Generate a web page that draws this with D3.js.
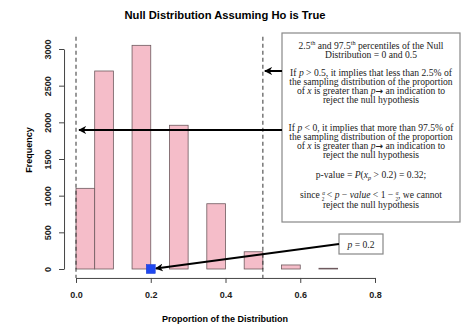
<!DOCTYPE html>
<html><head><meta charset="utf-8">
<script src="https://cdn.jsdelivr.net/npm/d3@7"></script>
<style>body{margin:0;background:#fff}svg{display:block}</style>
</head><body>
<svg id="c" width="474" height="326"></svg>
<script>
// ---- data ----
const binStarts = [0,0.05,0.1,0.15,0.2,0.25,0.3,0.35,0.4,0.45,0.5,0.55,0.6,0.65,0.7,0.75];
const binWidth = 0.05;
const counts = [1100,2700,0,3050,0,1960,0,890,0,235,0,55,0,10,0,0];
const xTicks = [0,0.2,0.4,0.6,0.8];
const yTicks = [0,500,1000,1500,2000,2500,3000];
const criticalValues = [0,0.5];
const observedP = 0.2;
const title = "Null Distribution Assuming Ho is True";
const xTitle = "Proportion of the Distribution";
const yTitle = "Frequency";

const svg = d3.select("#c");
const x = d3.scaleLinear().domain([0,0.8]).range([76,375]);
const y = d3.scaleLinear().domain([0,3000]).range([269,49]);
const plotTop = y(3167), plotBottom = y(-122), plotLeft = x(-0.032);
const sans = "'Liberation Sans', Arial, sans-serif";
const serif = "'Liberation Serif', 'Times New Roman', serif";

// title
svg.append("text").attr("x",225).attr("y",18.5).attr("text-anchor","middle")
  .attr("font-family",sans).attr("font-weight","bold").attr("font-size",11.2).text(title);

// bars
svg.append("g").selectAll("rect").data(binStarts).join("rect")
  .attr("x",d=>x(d)).attr("width",d=>x(d+binWidth)-x(d))
  .attr("y",(d,i)=>y(counts[i])).attr("height",(d,i)=>y(0)-y(counts[i]))
  .attr("fill","#f5bdc9").attr("stroke","#6e5a5e").attr("stroke-width",0.8);

// dashed critical lines
svg.append("g").selectAll("line").data(criticalValues).join("line")
  .attr("x1",d=>x(d)).attr("x2",d=>x(d)).attr("y1",plotTop).attr("y2",plotBottom)
  .attr("stroke","#333").attr("stroke-width",1).attr("stroke-dasharray","4,3");

// x axis
const xAxis = d3.axisBottom(x).tickValues(xTicks).tickFormat(d3.format(".1f")).tickSize(5).tickSizeOuter(0);
const gx = svg.append("g").attr("transform",`translate(0,${plotBottom})`).call(xAxis);
gx.select(".domain").attr("stroke","#444");
gx.selectAll(".tick line").attr("stroke","#444");
gx.selectAll("text").attr("font-family",sans).attr("font-size",9).attr("font-weight","bold").attr("fill","#222").attr("dy","1.35em");

// y axis
const yAxis = d3.axisLeft(y).tickValues(yTicks).tickFormat(d3.format("d")).tickSize(5).tickSizeOuter(0);
const gy = svg.append("g").attr("transform",`translate(${plotLeft},0)`).call(yAxis);
gy.select(".domain").attr("stroke","#444");
gy.selectAll(".tick line").attr("stroke","#444");
gy.selectAll("text").attr("font-family",sans).attr("font-size",9).attr("font-weight","bold").attr("fill","#222")
  .attr("x",null).attr("dy",null).attr("text-anchor","middle")
  .attr("transform","translate(-13,0) rotate(-90)").attr("y",0);

// axis titles
svg.append("text").attr("x",225).attr("y",321.5).attr("text-anchor","middle")
  .attr("font-family",sans).attr("font-weight","bold").attr("font-size",9).text(xTitle);
svg.append("text").attr("transform","translate(32,150) rotate(-90)").attr("text-anchor","middle")
  .attr("font-family",sans).attr("font-weight","bold").attr("font-size",9).text(yTitle);

// annotation box
const bx0=282, bx1=460, by0=33, by1=222;
svg.append("rect").attr("x",bx0).attr("y",by0).attr("width",bx1-bx0).attr("height",by1-by0)
  .attr("fill","#fff").attr("stroke","#888").attr("stroke-width",1.2);

const boxLines = [
 {y:48.5, parts:[["2.5"],["th","sup"],[" and 97.5"],["th","sup"],[" percentiles of the Null"]]},
 {y:57.5, parts:[["Distribution = 0 and 0.5"]]},
 {y:76, parts:[["If "],["p","i"],[" > 0.5, it implies that less than 2.5% of"]]},
 {y:85, parts:[["the sampling distribution  of the proportion"]]},
 {y:94, parts:[["of "],["x","i"],[" is greater than "],["p","i"],["\u2192","b"],[" an indication to"]]},
 {y:103, parts:[["reject the null hypothesis"]]},
 {y:131, parts:[["If "],["p","i"],[" < 0, it implies that more than 97.5% of"]]},
 {y:140, parts:[["the sampling distribution  of the proportion"]]},
 {y:149, parts:[["of "],["x","i"],[" is greater than "],["p","i"],["\u2192","b"],[" an indication to"]]},
 {y:158, parts:[["reject the null hypothesis"]]},
 {y:178, parts:[["p-value = "],["P","i"],["("],["x","i"],["p","sub"],[" > 0.2) = 0.32;"]]},
 {y:198, parts:[["since "],["frac"],[" < "],["p","i"],[" \u2212 "],["value","i"],[" < 1 \u2212 "],["frac"],[", we cannot"]]},
 {y:207.5, parts:[["reject the null hypothesis"]]},
];
const fs = 9.6;
const tg = svg.append("g").attr("font-family",serif).attr("font-size",fs).attr("fill","#222");
boxLines.forEach(l=>{
  const t = tg.append("text").attr("x",(bx0+bx1)/2).attr("y",l.y).attr("text-anchor","middle");
  let pend = 0;
  const add = (s)=>{ const sp = t.append("tspan").text(s); if(pend){ sp.attr("dy",pend); pend=0; } return sp; };
  l.parts.forEach(([s,k])=>{
    if(k==="sup"){ const sp=add(s).attr("font-size",6.2); sp.attr("dy",(+sp.attr("dy")||0)-3.5); pend=3.5; }
    else if(k==="sub"){ const sp=add(s).attr("font-size",6.2).attr("font-style","italic"); sp.attr("dy",(+sp.attr("dy")||0)+2.2); pend=-2.2; }
    else if(k==="i"){ add(s).attr("font-style","italic"); }
    else if(k==="b"){ add(s).attr("font-family","'DejaVu Sans', sans-serif").attr("font-weight","bold").attr("font-size",9); }
    else if(s==="frac"){
      add("\u03B1").attr("font-size",5.2).attr("font-style","italic").attr("dy",-3.2);
      t.append("tspan").attr("font-size",5.2).attr("dx",-3).attr("dy",5.8).text("2");
      pend = -2.6;
    }
    else add(s);
  });
});

// small p box
const sx0=339, sx1=383, sy0=234, sy1=254;
svg.append("rect").attr("x",sx0).attr("y",sy0).attr("width",sx1-sx0).attr("height",sy1-sy0)
  .attr("fill","#fff").attr("stroke","#888").attr("stroke-width",1.2);
const pt = svg.append("text").attr("x",(sx0+sx1)/2).attr("y",247.5).attr("text-anchor","middle")
  .attr("font-family",serif).attr("font-size",fs).attr("fill","#222");
pt.append("tspan").attr("font-style","italic").text("p");
pt.append("tspan").text(" = "+observedP);

// arrows
const defs = svg.append("defs");
defs.append("marker").attr("id","ah").attr("viewBox","0 0 10 10").attr("refX",9).attr("refY",5)
  .attr("markerWidth",4).attr("markerHeight",4).attr("markerUnits","strokeWidth").attr("orient","auto")
  .append("path").attr("d","M0,0 L10,5 L0,10 L3,5 Z").attr("fill","#000");
const arrows = [
  {x1:bx0, y1:71, x2:x(criticalValues[1])+2, y2:71},
  {x1:bx0, y1:130, x2:x(criticalValues[0])+3, y2:130},
  {x1:sx0, y1:244, x2:x(observedP)+5, y2:y(0)-0.5},
];
svg.append("g").selectAll("line").data(arrows).join("line")
  .attr("x1",d=>d.x1).attr("y1",d=>d.y1).attr("x2",d=>d.x2).attr("y2",d=>d.y2)
  .attr("stroke","#000").attr("stroke-width",2).attr("marker-end","url(#ah)");

// observed point
svg.append("rect").attr("x",x(observedP)-4.5).attr("y",y(0)-4.5).attr("width",9).attr("height",9)
  .attr("fill","#1f48f0").attr("stroke","#1a3ad0").attr("stroke-width",0.5);
</script>
</body></html>
